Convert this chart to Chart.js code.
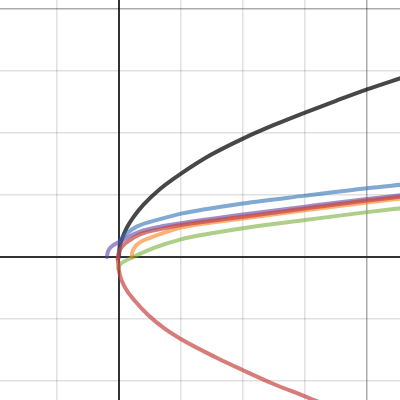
<!DOCTYPE html>
<html>
<head>
<meta charset="utf-8">
<style>
  html, body { margin: 0; padding: 0; background: #fff; }
  #wrap { width: 400px; height: 400px; }
</style>
<script src="https://cdn.jsdelivr.net/npm/chart.js@4/dist/chart.umd.min.js"></script>
</head>
<body>
<div id="wrap"><canvas id="grafico"></canvas></div>
<script>
// valores (unidade = 2 quadradinhos)
const pretoX = [0, 0.002, 0.008, 0.022, 0.062, 0.115, 0.196, 0.331, 0.5, 0.734, 1.0, 1.25, 1.5, 1.75, 2.0, 2.3];
const pretoY = [0, 0.042, 0.09, 0.14, 0.235, 0.32, 0.42, 0.548, 0.672, 0.82, 0.955, 1.065, 1.165, 1.26, 1.352, 1.452];

const azulX = [0, 0.002, 0.008, 0.022, 0.062, 0.143, 0.331, 0.5, 1.0, 1.5, 2.0, 2.3];
const azulY = [0, 0.07, 0.12, 0.15, 0.19, 0.245, 0.305, 0.35, 0.432, 0.495, 0.555, 0.585];

const roxoX = [-0.097, -0.093, -0.08, -0.055, -0.02, 0.008, 0.073, 0.169, 0.331, 0.5, 1.0, 1.5, 2.0, 2.3];
const roxoY = [0, 0.03, 0.06, 0.088, 0.11, 0.124, 0.162, 0.205, 0.245, 0.272, 0.342, 0.406, 0.468, 0.502];

const laranjaX = [0.102, 0.105, 0.115, 0.135, 0.169, 0.25, 0.331, 0.5, 1.0, 1.5, 2.0, 2.3];
const laranjaY = [0, 0.03, 0.06, 0.09, 0.118, 0.155, 0.185, 0.238, 0.31, 0.377, 0.44, 0.474];

const verdeX = [-0.006, 0.008, 0.048, 0.089, 0.13, 0.277, 0.5, 0.68, 1.0, 1.5, 2.0, 2.3];
const verdeY = [-0.091, -0.062, -0.033, -0.012, 0.007, 0.072, 0.142, 0.18, 0.232, 0.298, 0.362, 0.396];

// vermelho: os dois ramos a partir do vértice
const vermelhoSupX = [-0.01, -0.006, 0.008, 0.03, 0.075, 0.169, 0.331, 0.5, 1.0, 1.5, 2.0, 2.3];
const vermelhoSupY = [-0.015, 0.02, 0.06, 0.09, 0.128, 0.182, 0.225, 0.258, 0.325, 0.391, 0.455, 0.49];
const vermelhoInfX = [-0.01, -0.004, 0.008, 0.048, 0.129, 0.237, 0.371, 0.505, 0.774, 1.0, 1.232, 1.5, 1.6];
const vermelhoInfY = [-0.015, -0.08, -0.148, -0.245, -0.355, -0.47, -0.58, -0.665, -0.806, -0.913, -1.018, -1.124, -1.165];

const passoGrade = 0.5;
const passoMaior = 2;

function pontos(xs, ys) {
  return xs.map((x, i) => ({ x: x, y: ys[i] }));
}

function serie(xs, ys, cor) {
  return {
    data: pontos(xs, ys),
    borderColor: cor,
    borderWidth: 4,
    pointRadius: 0,
    showLine: true,
    fill: false,
    cubicInterpolationMode: 'monotone',
    borderCapStyle: 'round',
    borderJoinStyle: 'round'
  };
}

function ticksGrade(scale) {
  const ticks = [];
  const ini = Math.ceil(scale.min / passoGrade);
  const fim = Math.floor(scale.max / passoGrade);
  for (let k = ini; k <= fim; k++) ticks.push({ value: k * passoGrade });
  scale.ticks = ticks;
}

function corGrade(ctx) {
  const v = ctx.tick.value;
  if (Math.abs(v) < 1e-9) return '#333333';
  if (Math.abs(v / passoMaior - Math.round(v / passoMaior)) < 1e-9) return 'rgba(0,0,0,0.33)';
  return 'rgba(0,0,0,0.12)';
}

function larguraGrade(ctx) {
  return Math.abs(ctx.tick.value) < 1e-9 ? 2 : 1.5;
}

const eixo = (min, max) => ({
  type: 'linear',
  min: min,
  max: max,
  afterBuildTicks: ticksGrade,
  ticks: { display: false },
  border: { display: false },
  grid: { color: corGrade, lineWidth: larguraGrade, drawTicks: false }
});

const vermelho = 'rgba(199,68,64,0.7)';

new Chart(document.getElementById('grafico').getContext('2d'), {
  type: 'scatter',
  data: {
    datasets: [
      serie(vermelhoSupX, vermelhoSupY, vermelho),
      serie(vermelhoInfX, vermelhoInfY, vermelho),
      serie(laranjaX, laranjaY, 'rgba(250,126,25,0.6)'),
      serie(roxoX, roxoY, 'rgba(96,66,166,0.6)'),
      serie(verdeX, verdeY, 'rgba(120,175,55,0.6)'),
      serie(azulX, azulY, 'rgba(45,112,179,0.6)'),
      serie(pretoX, pretoY, 'rgba(0,0,0,0.72)')
    ]
  },
  options: {
    responsive: true,
    maintainAspectRatio: false,
    animation: false,
    layout: { padding: 0 },
    plugins: { legend: { display: false }, tooltip: { enabled: false } },
    scales: {
      x: eixo(-0.9597, 2.266),
      y: eixo(-1.1532, 2.0726)
    }
  }
});
</script>
</body>
</html>
